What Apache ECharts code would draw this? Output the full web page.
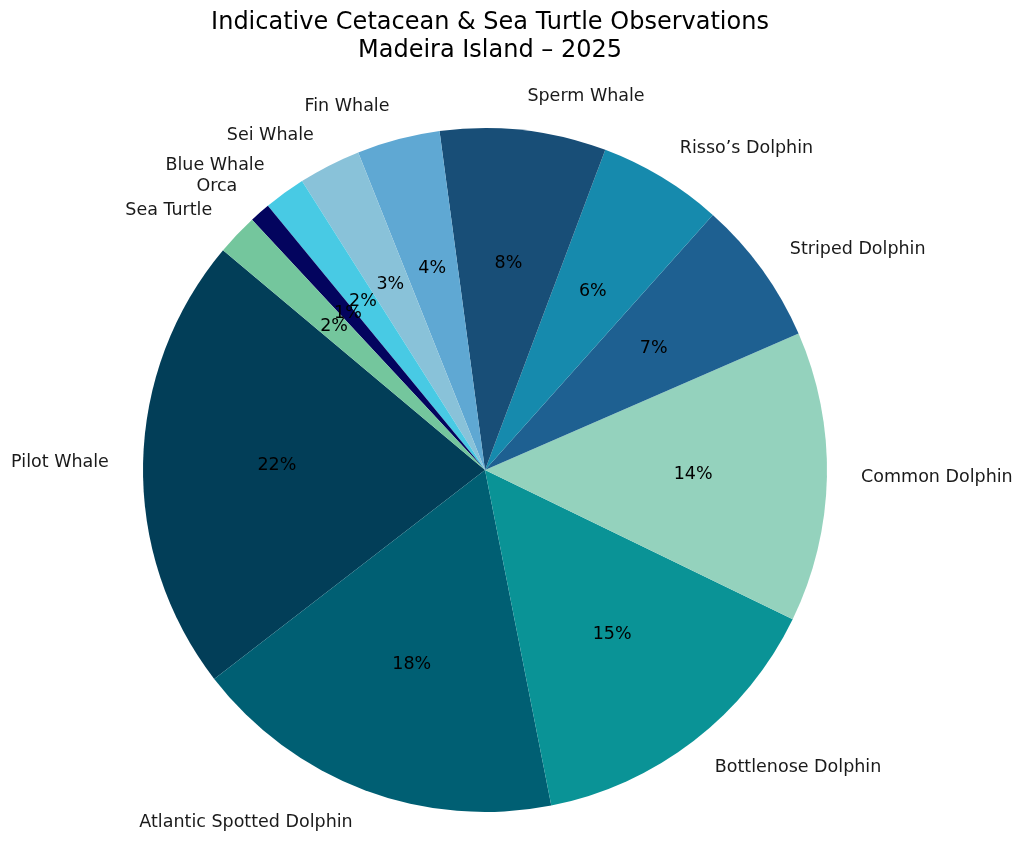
<!DOCTYPE html>
<html lang="en">
<head>
    <meta charset="UTF-8">
    <title>Madeira Cetacean Observations</title>
    <style>
        html, body { margin: 0; padding: 0; background: #fff; }
        #chart { width: 1024px; height: 855px; }
    </style>
</head>
<body>
<div id="chart"></div>
<script src="https://cdn.jsdelivr.net/npm/echarts@6/dist/echarts.min.js"></script>
<script>
    // species and observation counts
    var species = ['Pilot Whale', 'Atlantic Spotted Dolphin', 'Bottlenose Dolphin', 'Common Dolphin',
        'Striped Dolphin', 'Risso\u2019s Dolphin', 'Sperm Whale', 'Fin Whale', 'Sei Whale',
        'Blue Whale', 'Orca', 'Sea Turtle'];
    var counts = [220, 180, 150, 140, 70, 60, 80, 40, 30, 20, 10, 20];
    var colors = ['#023e58', '#005f73', '#0a9396', '#94d2bd', '#1e6091', '#168aad',
        '#184e77', '#5fa8d3', '#89c2d9', '#48cae4', '#03045e', '#74c69d'];

    var R = 342;
    var font = '"DejaVu Sans", sans-serif';

    var pieData = species.map(function (name, i) {
        return { name: name, value: counts[i], itemStyle: { color: colors[i] } };
    });

    var chart = echarts.init(document.getElementById('chart'));
    var option = {
        animation: false,
        title: {
            text: 'Indicative Cetacean & Sea Turtle Observations\nMadeira Island \u2013 2025',
            left: 485,
            top: 4,
            textAlign: 'center',
            textStyle: {
                fontFamily: font,
                fontSize: 24,
                fontWeight: 'normal',
                color: '#000',
                lineHeight: 28
            }
        },
        series: [
            {
                // sectors + name labels outside (at 1.1 r)
                type: 'pie',
                center: [485, 470],
                radius: [0, R],
                startAngle: 140,
                clockwise: false,
                avoidLabelOverlap: false,
                silent: true,
                itemStyle: { borderWidth: 0 },
                emphasis: { disabled: true },
                labelLayout: { hideOverlap: false },
                label: {
                    show: true,
                    position: 'outside',
                    distanceToLabelLine: 0,
                    fontFamily: font,
                    fontSize: 17.5,
                    color: '#1a1a1a',
                    formatter: '{b}'
                },
                labelLine: { show: false, length: R * 0.1, length2: 0 },
                data: pieData
            },
            {
                // invisible ring, used only to put the percentages at 0.6 r
                type: 'pie',
                center: [485, 470],
                radius: [0, R * 1.2],
                startAngle: 140,
                clockwise: false,
                avoidLabelOverlap: false,
                silent: true,
                itemStyle: { color: 'rgba(0,0,0,0)', borderWidth: 0 },
                emphasis: { disabled: true },
                labelLayout: { hideOverlap: false },
                label: {
                    show: true,
                    position: 'inner',
                    fontFamily: font,
                    fontSize: 17.5,
                    color: '#000',
                    formatter: function (p) { return Math.round(p.percent) + '%'; }
                },
                labelLine: { show: false },
                data: species.map(function (name, i) {
                    return { name: name, value: counts[i] };
                })
            }
        ]
    };
    chart.setOption(option);
</script>
</body>
</html>
